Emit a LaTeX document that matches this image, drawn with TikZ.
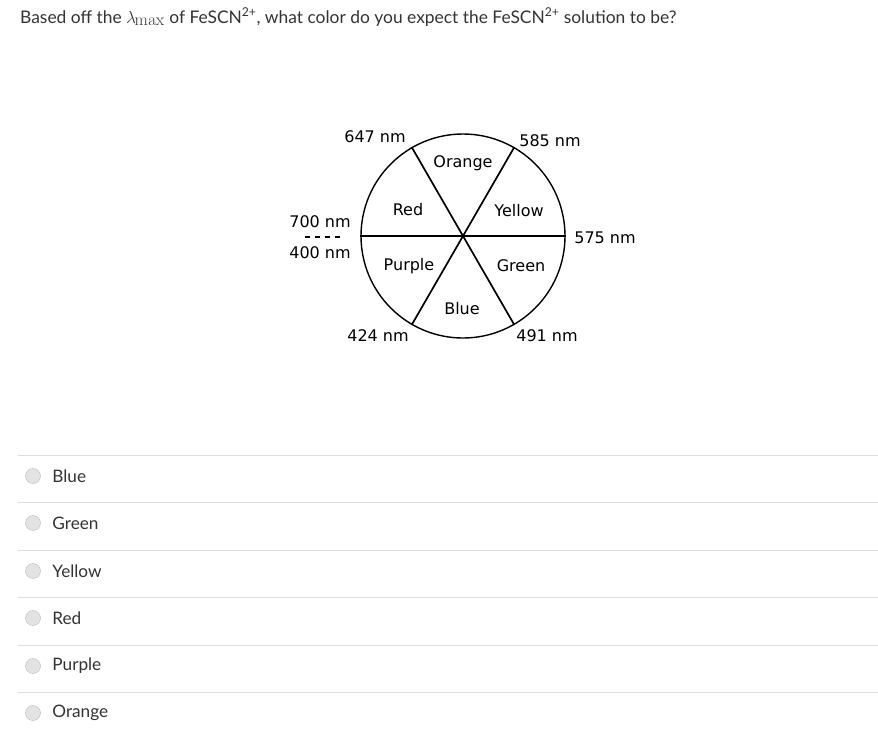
\documentclass[tikz,border=0pt]{standalone}
\usepackage[no-math]{fontspec}
\setmainfont{Lato}
\newfontfamily\wheelfont{DejaVu Sans}
\usetikzlibrary{positioning}
\definecolor{ink}{HTML}{333333}
\definecolor{rulegray}{HTML}{DDDDDD}

\begin{document}
\begin{tikzpicture}
  [x=1pt,y=-1pt,every node/.style={inner sep=0pt},
   wtext/.style={font=\wheelfont\fontsize{16}{18}\selectfont},
   answer/.style={font=\fontsize{17.2}{19}\selectfont,text=ink},
   radio/.style={circle,draw=gray!55,fill=gray!22,minimum size=15pt}]
  \useasboundingbox (0,0) rectangle (878,753);

  % question
  \node[anchor=base west,text=ink,font=\fontsize{17.4}{20}\selectfont] (question) at (20,23)
    {Based off the $\lambda_{\mkern-2mu\textstyle\mathrm{max}}$ of FeSCN\textsuperscript{2+}, what color do you expect the FeSCN\textsuperscript{2+} solution to be?};

  % colour wheel
  \node[circle,draw,line width=1.4pt,minimum size=204pt] (wheel) at (463,236) {};
  \foreach \from/\to in {180/0,120/-60,60/240}
    \draw[line width=1.7pt] (wheel.\from) -- (wheel.\to);

  \node[wtext] (orange) at (463,163) {Orange};
  \node[wtext] (red)    at (408,210) {Red};
  \node[wtext] (yellow) at (519,211) {Yellow};
  \node[wtext] (purple) at (409,266) {Purple};
  \node[wtext] (green)  at (521,266) {Green};
  \node[wtext] (blue)   at (462,309) {Blue};

  \node[wtext] (n647) at (375,137) {647 nm};
  \node[wtext] (n585) at (550,141) {585 nm};
  \node[wtext] (n700) at (320,222) {700 nm};
  \node[wtext] (n400) at (320,253) {400 nm};
  \node[wtext] (n575) at (605,238) {575 nm};
  \node[wtext] (n424) at (378,336) {424 nm};
  \node[wtext] (n491) at (547,336) {491 nm};
  \coordinate (dashL) at (305,237);
  \coordinate (dashR) at (340,237);
  \draw[line width=1.2pt,dash pattern=on 5pt off 5pt] (dashL) -- (dashR);

  % answers
  \foreach \y in {455,502,550,597,645,692}
    \draw[rulegray] (18,\y) -- (878,\y);
  \foreach \y/\txt in {476/Blue,523/Green,571/Yellow,618/Red,666/Purple,713/Orange} {
    \node[radio] (r\txt) at (33,\y) {};
    \node[answer,right=11.5pt of r\txt] (a\txt) {\txt};
  }

\end{tikzpicture}
\end{document}
